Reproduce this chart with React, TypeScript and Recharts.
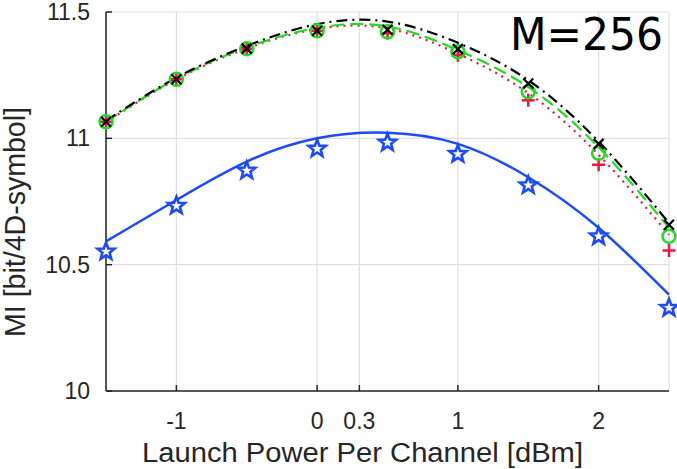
import { LineChart, Line, XAxis, YAxis, CartesianGrid, Customized } from 'recharts'

// launch power per channel [dBm]
const power = [-1.5, -1, -0.5, 0, 0.5, 1, 1.5, 2, 2.5]

// measured MI points
const starPts = [10.552, 10.733, 10.872, 10.959, 10.983, 10.938, 10.814, 10.612, 10.329]
const crossPts = [11.066, 11.234, 11.355, 11.426, 11.43, 11.353, 11.217, 10.978, 10.658]
const circlePts = [11.066, 11.234, 11.355, 11.426, 11.422, 11.343, 11.184, 10.941, 10.612]
const plusPts = [11.066, 11.234, 11.355, 11.426, 11.416, 11.329, 11.151, 10.895, 10.556]

// fitted curves read at the same powers
const starFit = [10.592, 10.756, 10.908, 11.0, 11.022, 10.978, 10.846, 10.646, 10.381]
const crossFit = [11.07, 11.24, 11.366, 11.452, 11.462, 11.378, 11.23, 10.987, 10.665]
const circleFit = [11.066, 11.236, 11.36, 11.437, 11.443, 11.349, 11.203, 10.965, 10.646]
const plusFit = [11.064, 11.233, 11.356, 11.433, 11.435, 11.335, 11.179, 10.935, 10.618]

const xTicks = [-1, 0, 0.3, 1, 2]
const yTicks = [10, 10.5, 11, 11.5]

const data = power.map((p, i) => ({
  p,
  star: starPts[i], cross: crossPts[i], circle: circlePts[i], plus: plusPts[i],
  starFit: starFit[i], crossFit: crossFit[i], circleFit: circleFit[i], plusFit: plusFit[i],
}))

const BLUE = '#1c4bff'
const GREEN = '#1edc1e'
const RED = '#ec1646'
const INK = '#262626'

const starPath = (cx: number, cy: number, ro: number, ri: number) => {
  let d = ''
  for (let k = 0; k < 10; k++) {
    const r = k % 2 === 0 ? ro : ri
    const a = -Math.PI / 2 + (k * Math.PI) / 5
    d += (k === 0 ? 'M' : 'L') + (cx + r * Math.cos(a)).toFixed(2) + ',' + (cy + r * Math.sin(a)).toFixed(2)
  }
  return d + 'Z'
}

const StarDot = (props: any) => (
  <path key={props.index} d={starPath(props.cx, props.cy, 9, 3.8)} fill="#fff" stroke={BLUE} strokeWidth={2.6} strokeLinejoin="miter" />
)
const CrossDot = (props: any) => {
  const { cx, cy } = props
  return (
    <path key={props.index} d={`M${cx - 5},${cy - 5}L${cx + 5},${cy + 5}M${cx - 5},${cy + 5}L${cx + 5},${cy - 5}`}
      stroke="#000" strokeWidth={2.2} />
  )
}
const CircleDot = (props: any) => (
  <circle key={props.index} cx={props.cx} cy={props.cy} r={6.5} fill="none" stroke={GREEN} strokeWidth={2.5} />
)
const PlusDot = (props: any) => {
  const { cx, cy } = props
  return (
    <path key={props.index} d={`M${cx - 6.5},${cy}L${cx + 6.5},${cy}M${cx},${cy - 6.5}L${cx},${cy + 6.5}`}
      stroke={RED} strokeWidth={2.5} />
  )
}

const Texts = () => (
  <g>
    <text x={510} y={50} fontFamily="DejaVu Sans" fontSize={44} fill="#000" textLength={153} lengthAdjust="spacingAndGlyphs">
      M=256
    </text>
    <text x={142} y={462} fontFamily="Liberation Sans, Arial" fontSize={27} fill={INK} textLength={441} lengthAdjust="spacingAndGlyphs">
      Launch Power Per Channel [dBm]
    </text>
    <text x={25} y={222} transform="rotate(-90 25 222)" textAnchor="middle" fontFamily="Liberation Sans, Arial"
      fontSize={29} fill={INK} textLength={230} lengthAdjust="spacingAndGlyphs">
      MI [bit/4D-symbol]
    </text>
  </g>
)

export default function App() {
  return (
    <div style={{ position: 'absolute', left: 0, top: 0, background: '#fff' }}>
      <LineChart width={677} height={469} data={data} margin={{ top: 12, right: 8, left: 0, bottom: 0 }}>
        <CartesianGrid stroke="#dfdfdf" strokeWidth={1.2} />
        <XAxis dataKey="p" type="number" domain={[-1.5, 2.5]} ticks={xTicks} interval={0}
          height={78} tickSize={-6} tickMargin={28} stroke={INK} strokeWidth={1.5}
          tick={{ fontSize: 23, fill: INK, fontFamily: 'Liberation Sans, Arial' }} />
        <YAxis type="number" domain={[10, 11.5]} ticks={yTicks} interval={0}
          width={106} tickSize={-6} tickMargin={22} stroke={INK} strokeWidth={1.5}
          tick={{ fontSize: 23, fill: INK, fontFamily: 'Liberation Sans, Arial' }} />
        <Line dataKey="starFit" type="natural" stroke={BLUE} strokeWidth={2.5} dot={false} isAnimationActive={false} />
        <Line dataKey="plusFit" type="natural" stroke={RED} strokeWidth={2.2} strokeDasharray="2 5" dot={false} isAnimationActive={false} />
        <Line dataKey="circleFit" type="natural" stroke={GREEN} strokeWidth={2.2} strokeDasharray="13 6" dot={false} isAnimationActive={false} />
        <Line dataKey="crossFit" type="natural" stroke="#000" strokeWidth={2.2} strokeDasharray="11 5 2 5" dot={false} isAnimationActive={false} />
        <Line dataKey="star" stroke="none" dot={StarDot} activeDot={false} isAnimationActive={false} />
        <Line dataKey="plus" stroke="none" dot={PlusDot} activeDot={false} isAnimationActive={false} />
        <Line dataKey="circle" stroke="none" dot={CircleDot} activeDot={false} isAnimationActive={false} />
        <Line dataKey="cross" stroke="none" dot={CrossDot} activeDot={false} isAnimationActive={false} />
        <Customized component={Texts} />
      </LineChart>
    </div>
  )
}
